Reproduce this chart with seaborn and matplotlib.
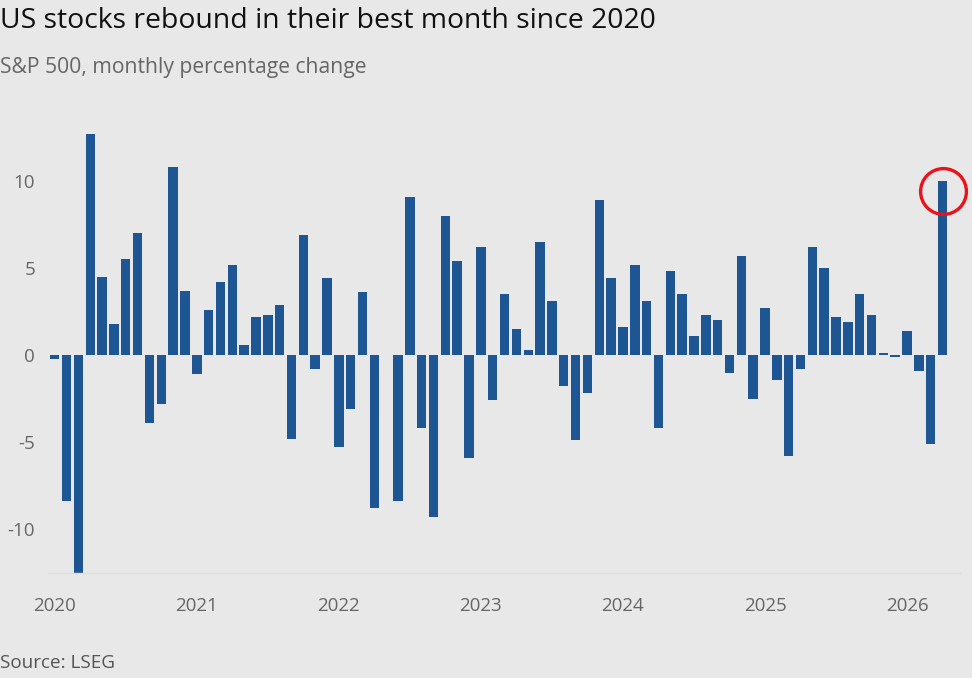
import numpy as np
import pandas as pd
import matplotlib.pyplot as plt
import seaborn as sns

# S&P 500 monthly % change, Jan 2020 - Apr 2026
years = ['2020', '2021', '2022', '2023', '2024', '2025', '2026']
chg_2020 = [-0.2, -8.4, -12.5, 12.7, 4.5, 1.8, 5.5, 7.0, -3.9, -2.8, 10.8, 3.7]
chg_2021 = [-1.1, 2.6, 4.2, 5.2, 0.6, 2.2, 2.3, 2.9, -4.8, 6.9, -0.8, 4.4]
chg_2022 = [-5.3, -3.1, 3.6, -8.8, 0.0, -8.4, 9.1, -4.2, -9.3, 8.0, 5.4, -5.9]
chg_2023 = [6.2, -2.6, 3.5, 1.5, 0.3, 6.5, 3.1, -1.8, -4.9, -2.2, 8.9, 4.4]
chg_2024 = [1.6, 5.2, 3.1, -4.2, 4.8, 3.5, 1.1, 2.3, 2.0, -1.0, 5.7, -2.5]
chg_2025 = [2.7, -1.4, -5.8, -0.8, 6.2, 5.0, 2.2, 1.9, 3.5, 2.3, 0.1, -0.1]
chg_2026 = [1.4, -0.9, -5.1, 10.0]

changes = chg_2020 + chg_2021 + chg_2022 + chg_2023 + chg_2024 + chg_2025 + chg_2026
months = pd.period_range('2020-01', periods=len(changes), freq='M').astype(str)
df = pd.DataFrame({'month': months, 'change': changes})

bg = '#e8e8e8'
blue = '#1e5693'

sns.set_theme(style='white')
plt.rcParams['font.family'] = ['Open Sans', 'DejaVu Sans']

fig = plt.figure(figsize=(9.72, 6.78), dpi=100, facecolor=bg)
ax = fig.add_axes([0.049, 0.155, 0.939, 0.681])
ax.set_facecolor(bg)

sns.barplot(data=df, x='month', y='change', color=blue, width=0.8,
            saturation=1, linewidth=0, ax=ax)

# highlight the latest month
last = len(df) - 1
ax.plot(last, df['change'].iloc[-1] - 0.6, marker='o', markersize=33,
        markerfacecolor='none', markeredgecolor='#e8141b', markeredgewidth=2.4,
        clip_on=False)

ax.set_xlim(-0.6, 76.5)
ax.set_ylim(-12.5, 14)
ax.set_yticks([-10, -5, 0, 5, 10])
ax.set_yticklabels(['-10', '-5', '0', '5', '10'])
ax.set_xticks(np.arange(0, len(df), 12))
ax.set_xticklabels(years)
ax.set_xlabel('')
ax.set_ylabel('')
ax.tick_params(axis='y', length=0, pad=9, labelsize=13.5, labelcolor='#666666')
ax.tick_params(axis='x', length=0, pad=17, labelsize=13.5, labelcolor='#666666')

for s in ['top', 'right', 'left']:
    ax.spines[s].set_visible(False)
ax.spines['bottom'].set_color('#dddddd')
ax.spines['bottom'].set_linewidth(1)

fig.text(0.0, 1 - 28 / 678, 'US stocks rebound in their best month since 2020',
         fontsize=20.4, color='#111111', va='baseline', ha='left')
fig.text(0.0, 1 - 73 / 678, 'S&P 500, monthly percentage change',
         fontsize=15.2, color='#666666', va='baseline', ha='left')
fig.text(0.0, 1 - 668 / 678, 'Source: LSEG',
         fontsize=13.6, color='#555555', va='baseline', ha='left')

fig.savefig('out.png', dpi=100, facecolor=bg)
